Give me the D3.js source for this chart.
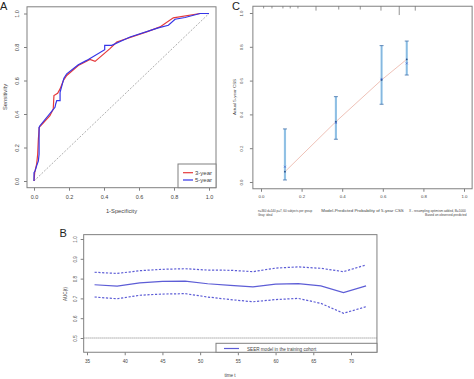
<!DOCTYPE html>
<html><head><meta charset="utf-8">
<script src="https://cdn.jsdelivr.net/npm/d3@7"></script>
<style>body{margin:0;background:#fff}svg{display:block;font-family:"Liberation Sans",Arial,sans-serif}</style>
</head><body><svg id="c" width="474" height="379"></svg>
<script>
// ---- Panel A: ROC curves ----
const rocFpr3 = [0, 0.004, 0.015, 0.021, 0.025, 0.03, 0.038, 0.091, 0.11, 0.114, 0.135, 0.149, 0.168, 0.187, 0.253, 0.32, 0.349, 0.434, 0.473, 0.644, 0.72, 0.796, 0.949, 1];
const rocTpr3 = [0, 0.05, 0.1, 0.16, 0.25, 0.32, 0.33, 0.39, 0.43, 0.51, 0.524, 0.55, 0.6, 0.63, 0.69, 0.726, 0.714, 0.79, 0.83, 0.89, 0.92, 0.974, 1, 1];
const rocFpr5 = [0, 0, 0.006, 0.015, 0.025, 0.029, 0.029, 0.034, 0.12, 0.124, 0.13, 0.149, 0.149, 0.171, 0.187, 0.253, 0.301, 0.404, 0.404, 0.444, 0.549, 0.71, 0.768, 0.806, 0.863, 0.949, 1];
const rocTpr5 = [0, 0.05, 0.06, 0.09, 0.12, 0.16, 0.32, 0.33, 0.44, 0.46, 0.48, 0.48, 0.53, 0.614, 0.64, 0.694, 0.72, 0.784, 0.81, 0.81, 0.86, 0.914, 0.93, 0.966, 0.976, 1, 1];
const rocLegend = ["3-year", "5-year"];
const unitTicks = [0, 0.2, 0.4, 0.6, 0.8, 1.0];

// ---- Panel C: calibration ----
const calPred = [0.118, 0.369, 0.594, 0.718];
const calObs  = [0.061, 0.357, 0.604, 0.726];
const calLo   = [0.012, 0.253, 0.46, 0.633];
const calHi   = [0.314, 0.505, 0.807, 0.834];
const calCorr = [0.09, 0.35, 0.61, 0.702];
const rugPred = [0.013, 0.054, 0.108, 0.144, 0.182, 0.271, 0.383, 0.489, 0.591, 0.681, 0.76];
const rugFreq = [2, 2, 2, 2, 2, 4, 3, 3, 4, 8, 4];
const calSubLeft = ["n=360 d=140 p=7, 60 subjects per group", "Gray: ideal"];
const calSubRight = ["X - resampling optimism added, B=1000", "Based on observed-predicted"];

// ---- Panel B: time-dependent AUC ----
const aucTimes = [36, 39, 42, 45, 48, 51, 54, 57, 60, 63, 66, 69, 72];
const aucMean  = [0.769, 0.762, 0.778, 0.786, 0.787, 0.774, 0.766, 0.758, 0.772, 0.775, 0.763, 0.729, 0.763];
const aucUpper = [0.832, 0.826, 0.840, 0.847, 0.850, 0.843, 0.842, 0.835, 0.853, 0.859, 0.852, 0.835, 0.869];
const aucLower = [0.707, 0.698, 0.716, 0.722, 0.724, 0.707, 0.694, 0.683, 0.694, 0.700, 0.675, 0.625, 0.658];
const timeTicks = [35, 40, 45, 50, 55, 60, 65, 70];
const aucTicks = [0.5, 0.6, 0.7, 0.8, 0.9, 1.0];
const aucLegend = "SEER model in the training cohort";

const svg = d3.select("#c");
svg.append("rect").attr("width",474).attr("height",379).attr("fill","#fff");
const BOX = "#808080", TXT = "#444";

function frame(g, x, y, xd, yd){
  g.append("rect").attr("x",x(xd[0])).attr("y",y(yd[1]))
   .attr("width",x(xd[1])-x(xd[0])).attr("height",y(yd[0])-y(yd[1]))
   .attr("fill","none").attr("stroke",BOX).attr("stroke-width",1);
}
function xAxis(g, x, yPos, ticks, fmt, fs, pad){
  const a = g.append("g").attr("transform",`translate(0,${yPos})`)
    .call(d3.axisBottom(x).tickValues(ticks).tickFormat(fmt).tickSize(3).tickPadding(pad));
  a.select(".domain").remove();
  a.selectAll("line").attr("stroke",BOX);
  a.selectAll("text").attr("font-size",fs).attr("fill",TXT).attr("font-family","Liberation Sans, Arial");
}
function yAxis(g, y, xPos, ticks, fmt, fs, d){
  const a = g.append("g").attr("transform",`translate(${xPos},0)`)
    .call(d3.axisLeft(y).tickValues(ticks).tickFormat(fmt).tickSize(3));
  a.select(".domain").remove();
  a.selectAll("line").attr("stroke",BOX);
  a.selectAll("text").attr("transform","rotate(-90)").attr("x",0).attr("y",-d).attr("dy",0)
    .attr("text-anchor","middle").attr("font-size",fs).attr("fill",TXT).attr("font-family","Liberation Sans, Arial");
}
const f1 = d3.format(".1f");

// ===== Panel A =====
{
  const x = d3.scaleLinear([0,1],[34,209]);
  const y = d3.scaleLinear([0,1],[181,13.5]);
  const g = svg.append("g");
  g.append("line").attr("x1",x(0)).attr("y1",y(0)).attr("x2",x(1)).attr("y2",y(1))
    .attr("stroke","#999").attr("stroke-width",0.8).attr("stroke-dasharray","2,1.5");
  const line = d3.line().x(d=>x(d[0])).y(d=>y(d[1]));
  g.append("path").attr("d",line(d3.zip(rocFpr3,rocTpr3))).attr("fill","none").attr("stroke","#e5393b").attr("stroke-width",1.2);
  g.append("path").attr("d",line(d3.zip(rocFpr5,rocTpr5))).attr("fill","none").attr("stroke","#3535e8").attr("stroke-width",1.2);
  frame(g, x, y, [-0.04,1.04], [-0.04,1.04]);
  xAxis(g, x, y(-0.04), unitTicks, f1, 5.5, 4);
  yAxis(g, y, x(-0.04), unitTicks, f1, 5.5, 8);
  g.append("text").attr("x",121.5).attr("y",213).attr("text-anchor","middle").attr("font-size",5.8).attr("fill",TXT).text("1-Specificity");
  g.append("text").attr("transform","translate(7,97) rotate(-90)").attr("text-anchor","middle").attr("font-size",5.8).attr("fill",TXT).text("Sensitivity");
  // legend
  g.append("rect").attr("x",178).attr("y",164).attr("width",x(1.04)-178).attr("height",y(-0.04)-164).attr("fill","#fff").attr("stroke",BOX);
  const lc = ["#e5393b","#3535e8"];
  rocLegend.forEach((t,i)=>{
    const yy = 172.7 + i*7.3;
    g.append("line").attr("x1",183).attr("x2",193).attr("y1",yy).attr("y2",yy).attr("stroke",lc[i]).attr("stroke-width",1.2);
    g.append("text").attr("x",195).attr("y",yy+2).attr("font-size",6).attr("fill",TXT).text(t);
  });
  svg.append("text").attr("x",0).attr("y",10).attr("font-size",11).attr("fill","#222").text("A");
}

// ===== Panel C =====
{
  const x = d3.scaleLinear([0,1],[261,464]);
  const y = d3.scaleLinear([0,1],[182,13]);
  const g = svg.append("g");
  frame(g, x, y, [-0.04,1.04], [-0.04,1.04]);
  const top = y(1.04);
  rugPred.forEach((p,i)=>{
    g.append("line").attr("x1",x(p)).attr("x2",x(p)).attr("y1",top).attr("y2",top+rugFreq[i]*1.1)
      .attr("stroke","#666").attr("stroke-width",0.7);
  });
  const line = d3.line().x(d=>x(d[0])).y(d=>y(d[1]));
  g.append("path").attr("d",line(d3.zip(calPred,calObs))).attr("fill","none").attr("stroke","#efc2b8").attr("stroke-width",1);
  calPred.forEach((p,i)=>{
    g.append("line").attr("x1",x(p)).attr("x2",x(p)).attr("y1",y(calLo[i])).attr("y2",y(calHi[i]))
      .attr("stroke","#9fcdec").attr("stroke-width",2.2);
    g.append("line").attr("x1",x(p)).attr("x2",x(p)).attr("y1",y(calLo[i])).attr("y2",y(calHi[i]))
      .attr("stroke","#6a9fd0").attr("stroke-width",0.5);
    [calLo[i],calHi[i]].forEach(v=>{
      g.append("line").attr("x1",x(p)-2).attr("x2",x(p)+2).attr("y1",y(v)).attr("y2",y(v))
        .attr("stroke","#3f6fa8").attr("stroke-width",0.8);
    });
    g.append("circle").attr("cx",x(p)).attr("cy",y(calObs[i])).attr("r",0.9).attr("fill","#2a4f8a");
    const cx = x(p), cy = y(calCorr[i]);
    g.append("path").attr("d",`M${cx-1},${cy-1}L${cx+1},${cy+1}M${cx-1},${cy+1}L${cx+1},${cy-1}`)
      .attr("stroke","#3a5fd0").attr("stroke-width",0.6);
  });
  xAxis(g, x, y(-0.04), unitTicks, f1, 4.3, 3.5);
  yAxis(g, y, x(-0.04), unitTicks, f1, 4.3, 10);
  g.append("text").attr("x",362.5).attr("y",211.5).attr("text-anchor","middle").attr("font-size",4.4).attr("fill",TXT).text("Model-Predicted Probability of 5-year CSS");
  g.append("text").attr("transform","translate(236,97) rotate(-90)").attr("text-anchor","middle").attr("font-size",4.4).attr("fill",TXT).text("Actual 5-year CSS");
  calSubLeft.forEach((t,i)=>g.append("text").attr("x",258).attr("y",212+i*4.3).attr("font-size",3).attr("fill",TXT).text(t));
  calSubRight.forEach((t,i)=>g.append("text").attr("x",i?425:409).attr("y",212+i*4.3).attr("font-size",3.2).attr("fill",TXT).text(t));
  svg.append("text").attr("x",232).attr("y",10).attr("font-size",11).attr("fill","#222").text("C");
}

// ===== Panel B =====
{
  const x = d3.scaleLinear([35,70],[87,351]);
  const y = d3.scaleLinear([0.5,1],[338,239]);
  const g = svg.append("g");
  const xd = [34.56, 73.44], yd = [0.428, 1.022];
  g.append("line").attr("x1",x(xd[0])).attr("x2",x(xd[1])).attr("y1",y(0.5)).attr("y2",y(0.5))
    .attr("stroke","#333").attr("stroke-width",0.8).attr("stroke-dasharray","0.8,1.2");
  const line = d3.line().x(d=>x(d[0])).y(d=>y(d[1]));
  const col = "#5d5dd6";
  g.append("path").attr("d",line(d3.zip(aucTimes,aucMean))).attr("fill","none").attr("stroke",col).attr("stroke-width",1.2);
  g.append("path").attr("d",line(d3.zip(aucTimes,aucUpper))).attr("fill","none").attr("stroke",col).attr("stroke-width",1.2).attr("stroke-dasharray","2.2,1.6");
  g.append("path").attr("d",line(d3.zip(aucTimes,aucLower))).attr("fill","none").attr("stroke",col).attr("stroke-width",1.2).attr("stroke-dasharray","2.2,1.6");
  frame(g, x, y, xd, yd);
  xAxis(g, x, y(yd[0]), timeTicks, d3.format("d"), 4.6, 4);
  yAxis(g, y, x(xd[0]), aucTicks, f1, 4.6, 7);
  g.append("text").attr("x",230).attr("y",377).attr("text-anchor","middle").attr("font-size",4.6).attr("fill",TXT).text("time t");
  g.append("text").attr("transform","translate(67,294) rotate(-90)").attr("text-anchor","middle").attr("font-size",4.6).attr("fill",TXT).text("AUC(t)");
  const lx0 = 216, ly0 = 343.3;
  g.append("rect").attr("x",lx0).attr("y",ly0).attr("width",x(xd[1])-lx0).attr("height",y(yd[0])-ly0).attr("fill","#fff").attr("stroke",BOX);
  g.append("line").attr("x1",224).attr("x2",239).attr("y1",348.5).attr("y2",348.5).attr("stroke",col).attr("stroke-width",1.2);
  g.append("text").attr("x",247).attr("y",350.5).attr("font-size",4.6).attr("fill",TXT).text(aucLegend);
  svg.append("text").attr("x",59.5).attr("y",236.5).attr("font-size",11).attr("fill","#222").text("B");
}
</script></body></html>
